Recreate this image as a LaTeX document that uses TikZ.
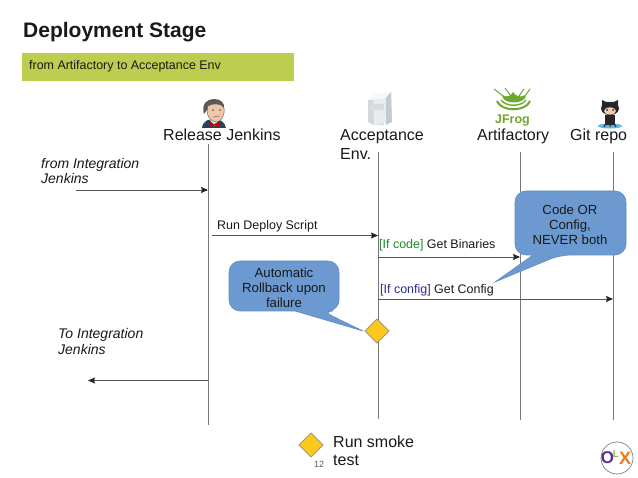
\documentclass[tikz,border=0pt]{standalone}
\usepackage{fontspec}
\setmainfont{Liberation Sans}
\usetikzlibrary{arrows.meta}
\definecolor{bandgreen}{HTML}{BCCD4F}
\definecolor{bubble}{HTML}{6C9AD0}
\definecolor{bubbleedge}{HTML}{5F8CC4}
\definecolor{lifegray}{HTML}{777777}
\definecolor{flowgray}{HTML}{555555}
\definecolor{gold}{HTML}{FDC81E}
\definecolor{goldedge}{HTML}{A09A70}
\definecolor{codegreen}{HTML}{1F8B2C}
\definecolor{cfgblue}{HTML}{2B2A8E}
\definecolor{frog}{HTML}{6FA82E}
\definecolor{skin}{HTML}{F0C8A8}
\definecolor{srvA}{HTML}{D2D8DE}
\definecolor{srvB}{HTML}{E9ECEF}
\definecolor{srvC}{HTML}{F7F8F9}
\definecolor{srvD}{HTML}{C3CAD2}
\definecolor{srvE}{HTML}{D7DCE2}
\definecolor{octowater}{HTML}{5BB8E8}
\definecolor{octoskin}{HTML}{F5CDB4}
\definecolor{olxpurple}{HTML}{5F2C91}
\definecolor{olxgreen}{HTML}{8CBF3F}
\definecolor{olxorange}{HTML}{F07A1A}
\definecolor{suit}{HTML}{2F3F5F}
\tikzset{
  lbl/.style={inner sep=0pt,anchor=base west,text=black!90},
  headtxt/.style={lbl,font=\fontsize{16}{18}\selectfont},
  smalltxt/.style={lbl,font=\fontsize{12.45}{15}\selectfont},
  itxt/.style={lbl,font=\fontsize{14}{16}\selectfont\itshape},
  lifeline/.style={draw=lifegray,line width=1pt},
  msg/.style={draw=flowgray,line width=.9pt,-{Stealth[length=7pt,width=6pt,inset=1pt,color=black!85]}},
  callout/.style={fill=bubble,draw=bubbleedge,line width=.6pt},
  calltxt/.style={inner sep=0pt,align=center,text=black!90,font=\fontsize{13.2}{15.2}\selectfont},
  decision/.style={fill=gold,draw=goldedge,line width=1pt,line join=round},
}
\begin{document}
\begin{tikzpicture}[x=1pt,y=-1pt]
\useasboundingbox (0,0) rectangle (638,478);
\fill[white] (0,0) rectangle (638,478);

% title
\node[lbl,font=\fontsize{21}{24}\selectfont\bfseries] (title) at (23,38) {Deployment Stage};
\fill[bandgreen] (22,53) rectangle (294,81);
\node[lbl,font=\fontsize{12.45}{15}\selectfont] (subtitle) at (29,70) {from Artifactory to Acceptance Env};

% lifelines
\coordinate (jtop) at (208,144); \coordinate (jbot) at (208,425);
\coordinate (atop) at (378,152); \coordinate (abot) at (378,419);
\coordinate (ftop) at (520,152); \coordinate (fbot) at (520,420);
\coordinate (gtop) at (613,152); \coordinate (gbot) at (613,420);
\draw[lifeline] (jtop) -- (jbot);
\draw[lifeline] (atop) -- (abot);
\draw[lifeline] (ftop) -- (fbot);
\draw[lifeline] (gtop) -- (gbot);

% headers
\node[headtxt] (hj) at (163,141) {Release Jenkins};
\node[headtxt] (ha) at (340,141) {Acceptance};
\node[headtxt] (ha2) at (340,159.5) {Env.};
\node[headtxt] (hf) at (477,141) {Artifactory};
\node[headtxt] (hg) at (570,141) {Git repo};

% jenkins icon
\fill[suit] (202,128) .. controls (203,121) and (208,119) .. (214,119) .. controls (220,119) and (225,122) .. (226,128) -- cycle;
\fill[white!90!gray] (209,119) -- (219,119) -- (215,126) -- cycle;
\fill[red!80!black] (209,122) -- (214,124) -- (219,122) -- (219,127) -- (214,125) -- (209,127) -- cycle;
\fill[black!65] (204,114) .. controls (201,104) and (207,99) .. (214,99) .. controls (221,99) and (225,103) .. (224,109) -- (222,106) -- (210,106) -- cycle;
\path[fill=skin,draw=black!60,line width=.5pt] (208,106) .. controls (212,103) and (222,103) .. (224,108) .. controls (225,114) and (222,122) .. (216,122) .. controls (211,122) and (207,116) .. (207,111) -- cycle;
\fill[black!70] (213,110) circle (.8) (220,110) circle (.8);
\draw[black!60,line width=.5pt] (213,117) -- (220,116);

% server icon
\fill[srvA] (368,100) -- (384,97) -- (384,125) -- (373,125) -- (368,122) -- cycle;
\fill[srvB] (373,94) -- (391,92) -- (392,122) -- (374,125) -- cycle;
\fill[srvC] (368,100) -- (373,94) -- (391,92) -- (386,98) -- cycle;
\fill[srvD] (386,98) -- (391,92) -- (392,122) -- (386,125) -- cycle;
\fill[srvE] (370,104) rectangle (384,110);

% jfrog icon
\draw[frog,line width=2pt] (497,101) .. controls (501,112) and (526,112) .. (530,101);
\draw[frog,line width=1.4pt] (501,100) .. controls (506,107) and (521,107) .. (526,100);
\fill[frog] (502,95) .. controls (507,98) and (511,96) .. (513,92) .. controls (515,96) and (520,98) .. (526,95) .. controls (526,105) and (502,105) .. (502,95) -- cycle;
\draw[frog,line width=1pt] (503,96) -- (494,89) (511,96) -- (505,88) (519,96) -- (524,89) (525,96) -- (530,89);
\node[inner sep=0pt,anchor=base,text=frog,font=\fontsize{12.5}{14}\selectfont\bfseries] (jfrog) at (512.5,124) {JFrog};

% github octocat
\fill[octowater] (610,126) ellipse (12 and 2.5);
\fill[black!85] (602,105) -- (602,100) -- (606,102) -- (614,102) -- (618,100) -- (618,105) .. controls (621,110) and (617,115) .. (610,115) .. controls (603,115) and (599,110) .. (602,105) -- cycle;
\fill[octoskin] (610,111) ellipse (6 and 3.6);
\fill[black!85] (607,110) circle (1) (613,110) circle (1);
\fill[black!85] (605,115) rectangle (615,125);
\draw[black!85,line width=1pt] (606,123) -- (604,127) (610,123) -- (610,127) (614,123) -- (616,127);

% messages
\coordinate (m1a) at (76,190); \coordinate (m1b) at (208,190);
\coordinate (m2a) at (212,235.5); \coordinate (m2b) at (378,235.5);
\coordinate (m3a) at (378,257); \coordinate (m3b) at (520,257);
\coordinate (m4a) at (378,299); \coordinate (m4b) at (613,299);
\coordinate (m5a) at (208,380.5); \coordinate (m5b) at (88,380.5);
\draw[msg] (m1a) -- (m1b);
\draw[msg] (m2a) -- (m2b);
\draw[msg] (m3a) -- (m3b);
\draw[msg] (m4a) -- (m4b);
\draw[msg] (m5a) -- (m5b);

% message labels
\node[itxt] (l1) at (41,168.5) {from Integration};
\node[itxt] (l1b) at (41,184) {Jenkins};
\node[itxt] (l2) at (58,339) {To Integration};
\node[itxt] (l2b) at (58,355) {Jenkins};
\node[smalltxt] (lrun) at (217,230) {Run Deploy Script};
\node[smalltxt] (lcode) at (379,249) {\textcolor{codegreen}{[If code]} Get Binaries};
\node[smalltxt] (lcfg) at (380,294) {\textcolor{cfgblue}{[If config]} Get Config};

% callouts
\path[callout] [rounded corners=11pt] (295,311) -- (229,311) -- (229,261) -- (339,261) -- (339,311) -- (322,311) [sharp corners] -- (363,331) -- cycle;
\node[calltxt] (c1) at (284,288) {Automatic\\Rollback upon\\failure};
\path[callout] [rounded corners=11pt] (533,255) -- (515,255) -- (515,191) -- (626,191) -- (626,255) -- (560,255) [sharp corners] -- (495,282) -- cycle;
\node[calltxt] (c2) at (570,225) {Code OR\\Config,\\NEVER both};

% decisions
\path[decision] (377,319) -- (389,331) -- (377,343) -- (365,331) -- cycle;
\path[decision] (311,433) -- (323,445) -- (311,457) -- (299,445) -- cycle;
\node[headtxt] (r1) at (333,448) {Run smoke};
\node[headtxt] (r2) at (333,466) {test};
\node[lbl,text=black!65,font=\fontsize{9}{10}\selectfont] (pg) at (314,468) {12};

% olx
\draw[fill=white,draw=black!50,line width=.7pt] (617,458) circle (16);
\node[inner sep=0pt,anchor=base,text=olxpurple,font=\fontsize{17}{18}\selectfont\bfseries] (ol) at (607.5,464) {O};
\node[inner sep=0pt,anchor=base,text=olxgreen,font=\fontsize{10}{11}\selectfont\bfseries] (ll) at (616,458) {L};
\node[inner sep=0pt,anchor=base,text=olxorange,font=\fontsize{18}{19}\selectfont\bfseries] (lx) at (625,465) {X};
\end{tikzpicture}
\end{document}
